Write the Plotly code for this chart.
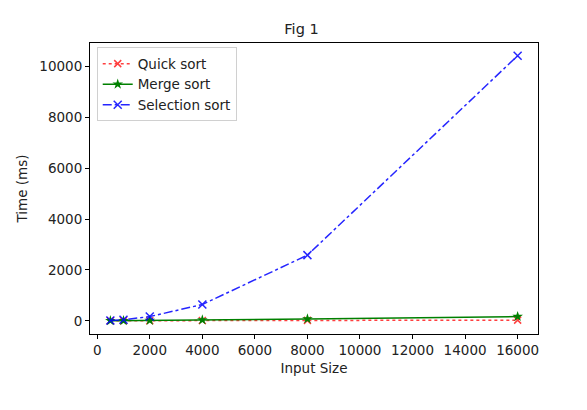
import plotly.graph_objects as go

# input sizes and measured times (ms)
input_sizes = [500, 1000, 2000, 4000, 8000, 16000]
quick_sort = [1, 2, 4, 8, 15, 25]
merge_sort = [3, 6, 14, 32, 72, 165]
selection_sort = [10, 40, 165, 640, 2580, 10420]

x_ticks = [0, 2000, 4000, 6000, 8000, 10000, 12000, 14000, 16000]
y_ticks = [0, 2000, 4000, 6000, 8000, 10000]

FONT = "DejaVu Sans"
FS = 13.5

fig = go.Figure()
fig.add_trace(
    go.Scatter(
        x=input_sizes,
        y=quick_sort,
        name="Quick sort",
        mode="lines+markers",
        line=dict(color="#ff0000", dash="dot", width=1.5),
        marker=dict(symbol="x-thin", size=7, line=dict(color="#ff0000", width=1.5)),
        opacity=0.75,
    )
)
fig.add_trace(
    go.Scatter(
        x=input_sizes,
        y=merge_sort,
        name="Merge sort",
        mode="lines+markers",
        line=dict(color="#008000", width=1.5),
        marker=dict(symbol="star", size=8, color="#008000"),
    )
)
fig.add_trace(
    go.Scatter(
        x=input_sizes,
        y=selection_sort,
        name="Selection sort",
        mode="lines+markers",
        line=dict(color="#0000ff", dash="dashdot", width=1.5),
        marker=dict(symbol="x-thin", size=8, line=dict(color="#0000ff", width=1.5)),
        opacity=0.85,
    )
)

axis_style = dict(
    showline=True,
    linecolor="black",
    linewidth=1,
    mirror=True,
    ticks="outside",
    ticklen=4,
    tickcolor="black",
    showgrid=False,
    zeroline=False,
    tickfont=dict(family=FONT, size=FS, color="#222"),
)

fig.update_layout(
    width=587,
    height=410,
    paper_bgcolor="white",
    plot_bgcolor="white",
    font=dict(family=FONT, size=FS, color="#222"),
    margin=dict(l=82, r=57, t=35, b=84),
    title=dict(text="Fig 1", x=0.5, xanchor="center", yref="container", y=0.948,
               yanchor="middle", font=dict(family=FONT, size=14.5, color="#222")),
    xaxis=dict(axis_style, range=[-275, 16775], tickvals=x_ticks,
               ticktext=[str(v) for v in x_ticks],
               title=dict(text="Input Size", standoff=6, font=dict(size=FS))),
    yaxis=dict(axis_style, range=[-520, 10920], tickvals=y_ticks,
               ticktext=[str(v) for v in y_ticks],
               title=dict(text="Time (ms)", standoff=8, font=dict(size=FS))),
    legend=dict(
        x=0.015, y=0.985, xanchor="left", yanchor="top",
        bgcolor="rgba(255,255,255,0.8)",
        bordercolor="#d0d0d0", borderwidth=1,
        font=dict(family=FONT, size=13.5),
        tracegroupgap=0,
        itemwidth=30,
    ),
    showlegend=True,
)

fig.write_html("out.html")
